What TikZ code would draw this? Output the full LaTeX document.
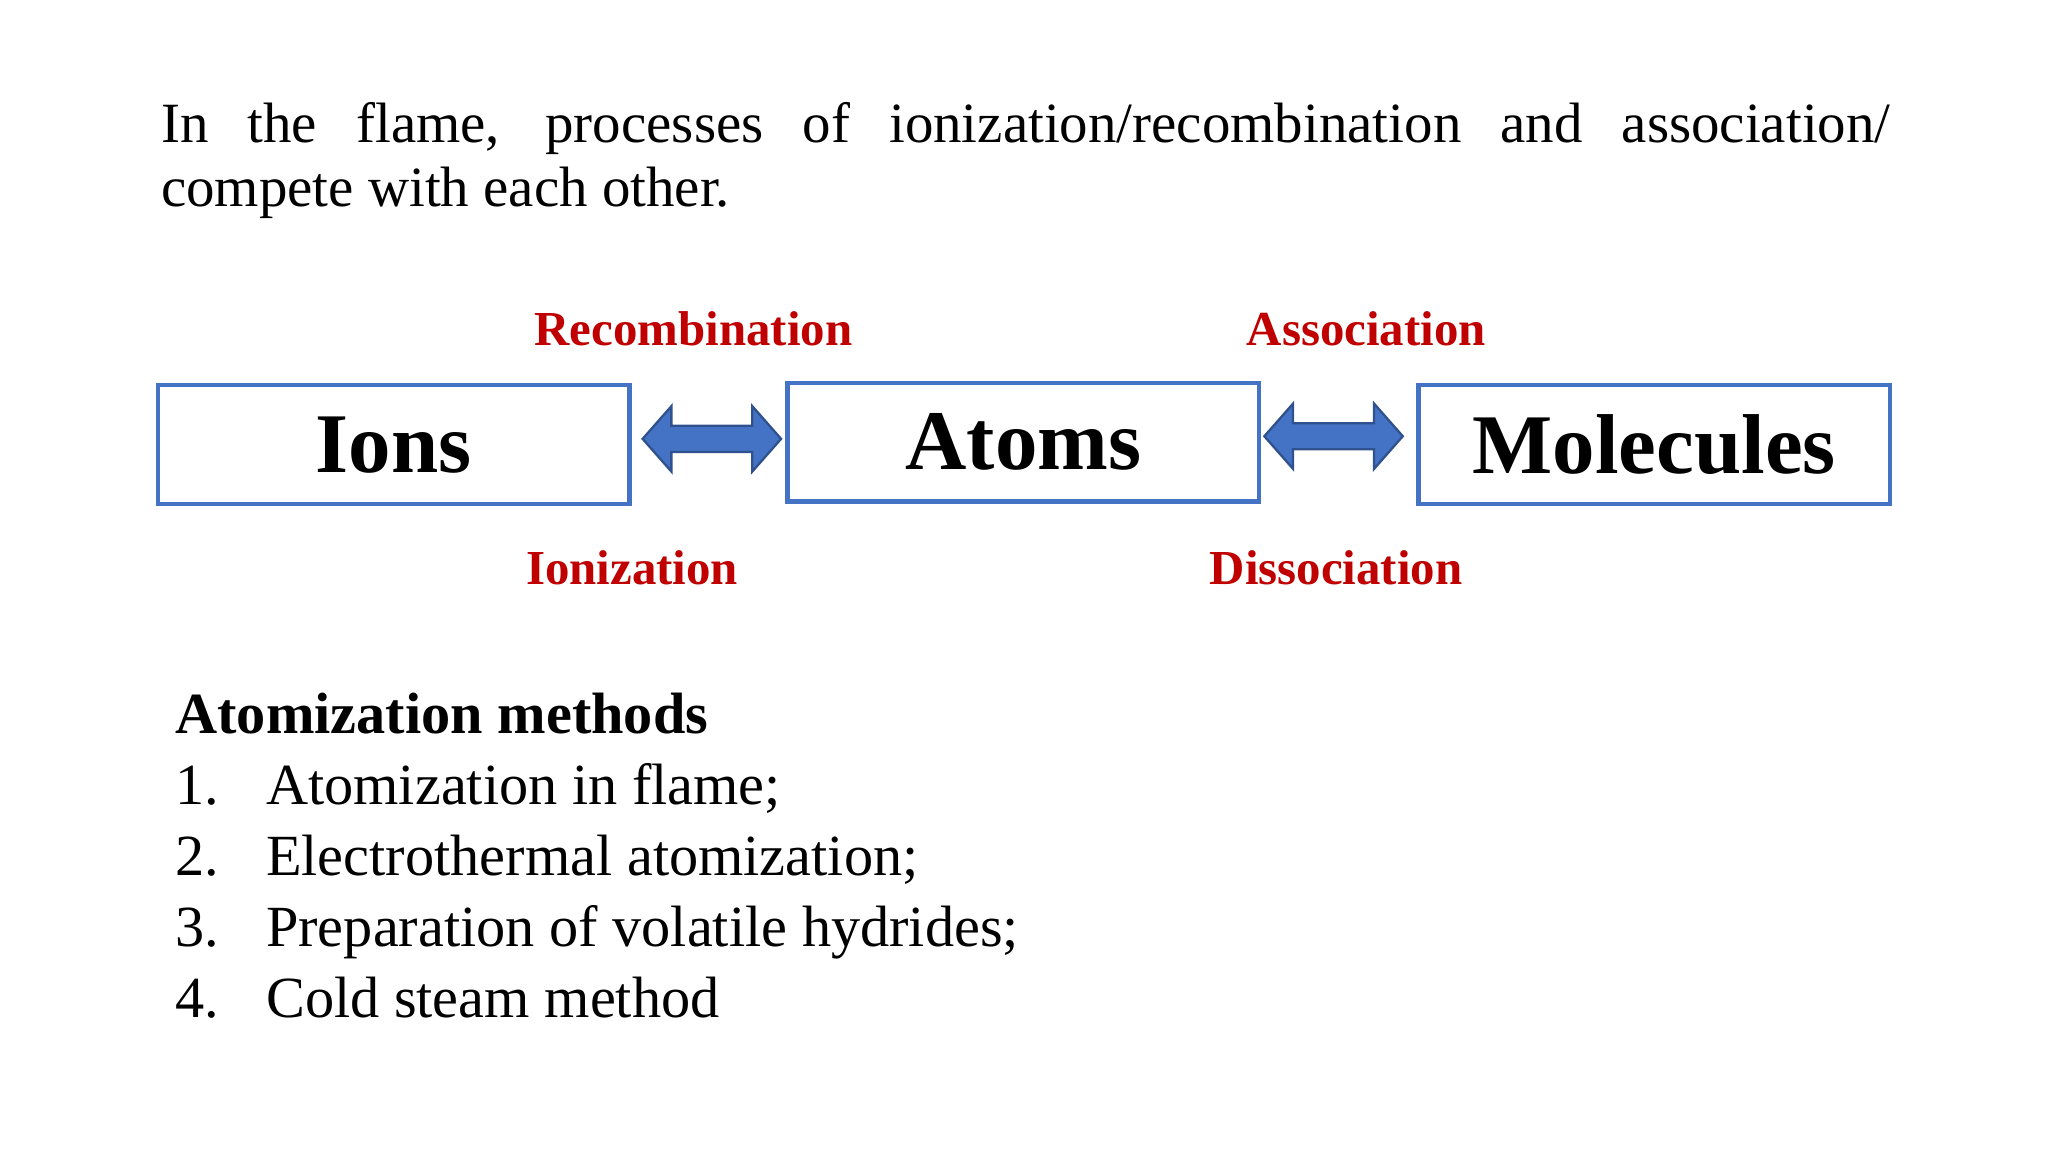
\documentclass[tikz,border=0pt]{standalone}
\usepackage{fontspec}
\setmainfont{Liberation Serif}
\definecolor{bblue}{HTML}{4472C4}
\definecolor{dblue}{HTML}{2F528F}
\definecolor{dred}{HTML}{C00000}
\tikzset{
 box/.style={draw=bblue,line width=0.065cm,minimum width=361*0.02cm,minimum height=91*0.02cm,inner sep=0pt,font=\fontsize{37}{44}\selectfont\bfseries},
 lbl/.style={text=dred,font=\fontsize{21.3}{25}\selectfont\bfseries},
 darr/.style={fill=bblue,draw=dblue,line width=1pt,line join=miter}
}
\newcommand{\dblarrow}[3]{% left x, right x, y
 \path[darr] (#1,#3) -- ++(22,-25) -- ++(0,15) -- (#2-22,#3-10) -- ++(0,-15) -- (#2,#3) -- ++(-22,25) -- ++(0,-15) -- (#1+22,#3+10) -- ++(0,15) -- cycle;}
\begin{document}
\begin{tikzpicture}[x=0.02cm,y=-0.02cm]
\useasboundingbox (0,0) rectangle (1568,882);
\node[anchor=north west,inner sep=0pt,text width=1324*0.02cm,align=justify,font=\fontsize{24.8}{28}\selectfont] (para) at (123,78)
 {In the flame, processes of ionization/recombination and association/\linebreak compete with each other.};
\node[box] (ions) at (301.5,340.5) {Ions};
\node[box] (atoms) at (783.5,338.5) {Atoms};
\node[box] (mol) at (1266.5,340.5) {Molecules};
\dblarrow{492}{598}{336}
\dblarrow{968}{1074}{334}
\node[lbl] (rec) at (531,252) {Recombination};
\node[lbl] (ion) at (484,435) {Ionization};
\node[lbl] (ass) at (1046,252) {Association};
\node[lbl] (dis) at (1023,435) {Dissociation};
\node[anchor=north west,inner sep=0pt,align=left,font=\fontsize{25.4}{31}\selectfont] (list) at (134,530)
 {\textbf{Atomization methods}\\
 1.\hspace{0.72cm}Atomization in flame;\\
 2.\hspace{0.72cm}Electrothermal atomization;\\
 3.\hspace{0.72cm}Preparation of volatile hydrides;\\
 4.\hspace{0.72cm}Cold steam method};
\end{tikzpicture}
\end{document}
